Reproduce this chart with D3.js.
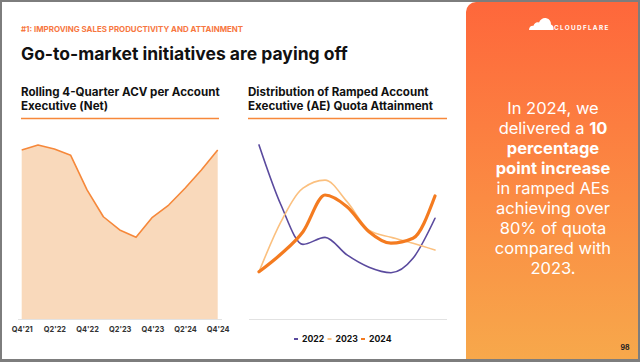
<!DOCTYPE html>
<html>
<head>
<meta charset="utf-8">
<script src="https://cdn.jsdelivr.net/npm/d3@7"></script>
<style>
  html, body { margin: 0; padding: 0; background: #fff; }
  svg { display: block; font-family: Inter, "Noto Sans", sans-serif; }
</style>
</head>
<body>
<div id="chart"></div>
<script>
// Left chart: rolling 4-quarter ACV per AE (index, no axis shown)
const quarters = ["Q4'21","Q1'22","Q2'22","Q3'22","Q4'22","Q1'23","Q2'23","Q3'23","Q4'23","Q1'24","Q2'24","Q3'24","Q4'24"];
const acvValues = [89.4, 92.1, 89.9, 86.6, 68.3, 54.1, 47.1, 43.2, 53.8, 60.3, 69.2, 78.8, 89.4];
const quarterTicks = ["Q4'21","Q2'22","Q4'22","Q2'23","Q4'23","Q2'24","Q4'24"];

// Right chart: distribution of ramped AE quota attainment (bins, no axis shown)
const attainBins = [0, 1, 2, 3, 4, 5, 6, 7, 8];
const dist2022 = [92.1, 60.3, 39.5, 43.2, 33.9, 27.4, 24.5, 32.1, 53.3];
const dist2023 = [25.0, 51.5, 69.2, 73.5, 62.1, 47.0, 43.2, 40.1, 36.5];
const dist2024 = [25.0, 34.4, 46.2, 65.6, 59.4, 46.2, 40.1, 42.7, 65.1];
const seriesNames = ["2022", "2023", "2024"];

const W = 640, H = 362;
const svg = d3.select('#chart').append('svg')
  .attr('width', W).attr('height', H).attr('viewBox', [0, 0, W, H]);

// frame
svg.append('rect').attr('width', W).attr('height', H).attr('fill', '#7d7d7d');
svg.append('rect').attr('x', 2).attr('y', 2).attr('width', 636).attr('height', 357).attr('fill', '#fff');

// header
svg.append('text').attr('x', 21).attr('y', 32)
  .attr('fill', '#f7773f').attr('font-size', '7.9px').attr('font-weight', 700)
  .text('#1: IMPROVING SALES PRODUCTIVITY AND ATTAINMENT');
svg.append('text').attr('x', 21).attr('y', 59.5)
  .attr('fill', '#111').attr('font-size', '17.5px').attr('font-weight', 700)
  .text('Go-to-market initiatives are paying off');

// chart titles + underline
function chartTitle(x, lines, x2) {
  lines.forEach((t, i) => {
    svg.append('text').attr('x', x).attr('y', 96 + i * 14)
      .attr('fill', '#111').attr('font-size', '11.6px').attr('font-weight', 700)
      .text(t);
  });
  svg.append('line').attr('x1', x).attr('x2', x2).attr('y1', 118.5).attr('y2', 118.5)
    .attr('stroke', '#f7883a').attr('stroke-width', 1.5);
}
chartTitle(21, ['Rolling 4-Quarter ACV per Account', 'Executive (Net)'], 219);
chartTitle(248, ['Distribution of Ramped Account', 'Executive (AE) Quota Attainment'], 447);

// ---- left area chart ----
const baseY = 319;
const xL = d3.scalePoint().domain(quarters).range([21.7, 217.7]);
const yS = d3.scaleLinear().domain([0, 100]).range([baseY, 130]);

svg.append('path').datum(acvValues)
  .attr('fill', '#f9d9bb')
  .attr('d', d3.area().x((d, i) => xL(quarters[i])).y0(baseY).y1(d => yS(d)));
svg.append('path').datum(acvValues)
  .attr('fill', 'none').attr('stroke', '#f6883a').attr('stroke-width', 1.6)
  .attr('stroke-linejoin', 'round')
  .attr('d', d3.line().x((d, i) => xL(quarters[i])).y(d => yS(d)));

const axL = svg.append('g').attr('transform', `translate(0,${baseY})`)
  .call(d3.axisBottom(xL).tickValues(quarterTicks).tickSize(0).tickPadding(8));
axL.select('.domain').attr('stroke', '#e2e2e2').attr('d', 'M18,0.5H222');
axL.selectAll('text').attr('font-family', 'Inter, sans-serif').attr('font-size', '7.4px')
  .attr('font-weight', 700).attr('fill', '#333');

// ---- right distribution chart ----
const xR = d3.scaleLinear().domain(d3.extent(attainBins)).range([259, 435]);
const rLine = d3.line().x((d, i) => xR(attainBins[i])).y(d => yS(d)).curve(d3.curveMonotoneX);

svg.append('line').attr('x1', 249).attr('x2', 447).attr('y1', 319.5).attr('y2', 319.5)
  .attr('stroke', '#e2e2e2').attr('stroke-width', 1);

const series = [
  { name: seriesNames[0], values: dist2022, color: '#5a4a9e', width: 1.6 },
  { name: seriesNames[1], values: dist2023, color: '#fbc07f', width: 1.6 },
  { name: seriesNames[2], values: dist2024, color: '#f47b20', width: 3.2 }
];
series.forEach(s => {
  svg.append('path').datum(s.values)
    .attr('fill', 'none').attr('stroke', s.color).attr('stroke-width', s.width)
    .attr('stroke-linecap', 'round')
    .attr('d', rLine);
});

// legend
const legendX = [294, 327.5, 361];
series.forEach((s, i) => {
  const g = svg.append('g').attr('transform', `translate(${legendX[i]},339)`);
  g.append('line').attr('x1', 0).attr('x2', 4).attr('y1', 0).attr('y2', 0)
    .attr('stroke', s.color).attr('stroke-width', 2);
  g.append('text').attr('x', 8).attr('y', 3.3)
    .attr('font-size', '8.7px').attr('font-weight', 700).attr('fill', '#111')
    .text(s.name);
});

// ---- right orange panel ----
const defs = svg.append('defs');
const grad = defs.append('linearGradient').attr('id', 'pg')
  .attr('x1', 0).attr('y1', 0).attr('x2', 0).attr('y2', 1);
grad.append('stop').attr('offset', '0%').attr('stop-color', '#fe673b');
grad.append('stop').attr('offset', '55%').attr('stop-color', '#fb8b43');
grad.append('stop').attr('offset', '100%').attr('stop-color', '#f7a84b');

const px = 466, py = 2, pw = 172, ph = 357, r = 10;
svg.append('path')
  .attr('d', `M${px},${py + r} A${r},${r} 0 0 1 ${px + r},${py} H${px + pw} V${py + ph} H${px} Z`)
  .attr('fill', 'url(#pg)');

// logo
const logo = svg.append('g').attr('transform', 'translate(529,18)');
logo.append('path')
  .attr('d', 'M0,12 C0,9 2,7.5 4.5,7.8 C5.5,4.5 8,3.5 10,4.6 C11.5,1 14.5,-0.5 17.5,0.3 C20.5,1 22,3.5 22,6.5 C24,7 25,9.5 24.5,12 Z')
  .attr('fill', '#fff');
logo.append('text').attr('x', 25).attr('y', 11.8)
  .attr('fill', '#fff').attr('font-size', '6.4px').attr('font-weight', 700)
  .attr('letter-spacing', '1.3px').text('CLOUDFLARE');

// callout text
const callout = [
  [['In 2024, we', 400]],
  [['delivered a ', 400], ['10', 700]],
  [['percentage', 700]],
  [['point increase', 700]],
  [['in ramped AEs', 400]],
  [['achieving over', 400]],
  [['80% of quota', 400]],
  [['compared with', 400]],
  [['2023.', 400]]
];
callout.forEach((parts, i) => {
  const t = svg.append('text').attr('x', 553).attr('y', 114 + i * 20)
    .attr('text-anchor', 'middle').attr('fill', '#fff').attr('font-size', '16.5px');
  parts.forEach(([txt, w]) => t.append('tspan').attr('font-weight', w).text(txt));
});

svg.append('text').attr('x', 625).attr('y', 350).attr('text-anchor', 'middle')
  .attr('fill', '#222').attr('font-size', '7px').attr('font-weight', 700).text('98');
</script>
</body>
</html>
